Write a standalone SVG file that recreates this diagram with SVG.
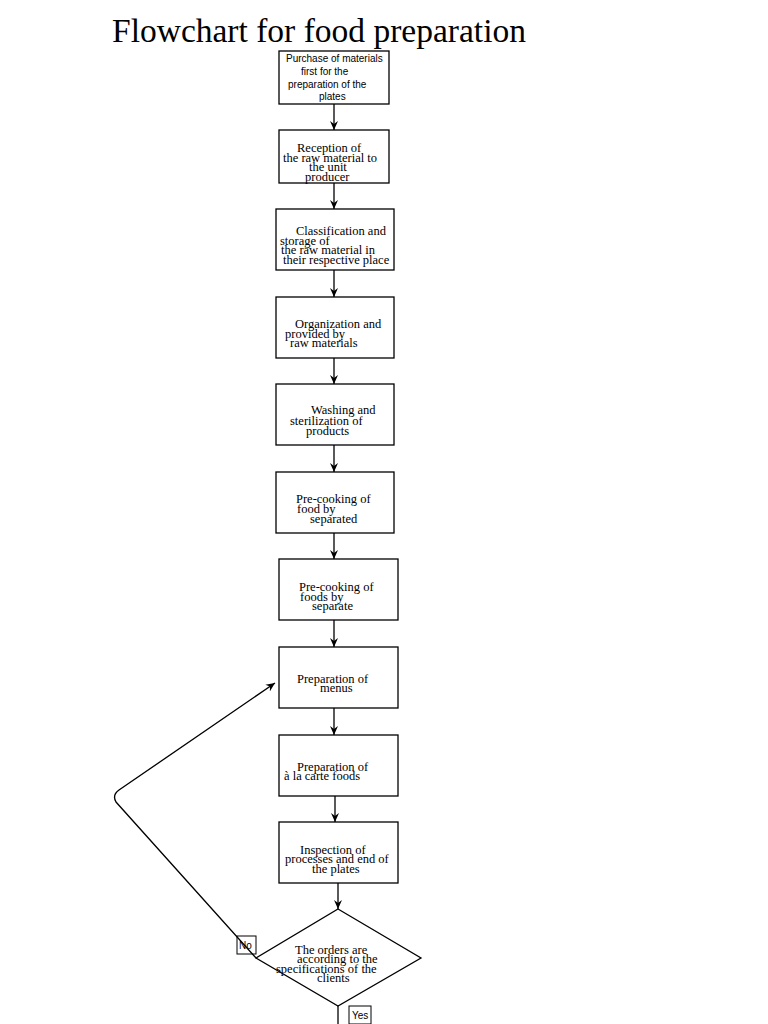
<svg xmlns="http://www.w3.org/2000/svg" width="768" height="1024" viewBox="0 0 768 1024">
<style>
.b{fill:#fff;stroke:#000;stroke-width:1.3}
.t{font-family:"Liberation Serif",serif;font-size:12.5px;fill:#000}
.s{font-family:"Liberation Sans",sans-serif;font-size:10px;fill:#000}
.c{stroke:#000;stroke-width:1.3;fill:none}
</style>
<defs><marker id="a" markerWidth="10" markerHeight="10" refX="9" refY="5" orient="auto" markerUnits="userSpaceOnUse"><path d="M0,1 L9,5 L0,9 L3,5 Z" fill="#000"/></marker></defs>
<rect width="768" height="1024" fill="#fff"/>
<text x="112" y="42" font-family="Liberation Serif,serif" font-size="33.5">Flowchart for food preparation</text>
<g id="connectors">
<line class="c" x1="334" y1="104" x2="334" y2="130" marker-end="url(#a)"/>
<line class="c" x1="334" y1="183" x2="334" y2="209" marker-end="url(#a)"/>
<line class="c" x1="334" y1="270" x2="334" y2="297" marker-end="url(#a)"/>
<line class="c" x1="334" y1="358" x2="334" y2="384" marker-end="url(#a)"/>
<line class="c" x1="334" y1="445" x2="334" y2="472" marker-end="url(#a)"/>
<line class="c" x1="334" y1="533" x2="334" y2="559" marker-end="url(#a)"/>
<line class="c" x1="334" y1="620" x2="334" y2="647" marker-end="url(#a)"/>
<line class="c" x1="334" y1="708" x2="334" y2="735" marker-end="url(#a)"/>
<line class="c" x1="335" y1="796" x2="335" y2="822" marker-end="url(#a)"/>
<line class="c" x1="338" y1="883" x2="338" y2="909" marker-end="url(#a)"/>
<path class="c" d="M256,958 L116,802 Q112,795 119,790 L275,683" marker-end="url(#a)"/>
<line class="c" x1="338" y1="1006" x2="338" y2="1024"/>
</g>
<g id="n1"><rect class="b" x="279" y="51" width="110" height="53"/>
<text class="s" x="286" y="62">Purchase of materials</text><text class="s" x="301" y="75">first for the</text><text class="s" x="288" y="88">preparation of the</text><text class="s" x="319" y="100">plates</text></g>
<g id="n2"><rect class="b" x="279" y="130" width="110" height="53"/>
<text class="t" x="297" y="152">Reception of</text><text class="t" x="283" y="162">the raw material to</text><text class="t" x="309" y="171">the unit</text><text class="t" x="305" y="181">producer</text></g>
<g id="n3"><rect class="b" x="276" y="209" width="118" height="61"/>
<text class="t" x="296" y="235" font-size="11">Classification and</text><text class="t" x="280" y="245" font-size="11">storage of</text><text class="t" x="281" y="254" font-size="11">the raw material in</text><text class="t" x="283" y="264" font-size="11">their respective place</text></g>
<g id="n4"><rect class="b" x="276" y="297" width="118" height="61"/>
<text class="t" x="295" y="328">Organization and</text><text class="t" x="285" y="338">provided by</text><text class="t" x="290" y="347">raw materials</text></g>
<g id="n5"><rect class="b" x="276" y="384" width="118" height="61"/>
<text class="t" x="311" y="414" font-size="10">Washing and</text><text class="t" x="290" y="425">sterilization of</text><text class="t" x="306" y="435">products</text></g>
<g id="n6"><rect class="b" x="276" y="472" width="118" height="61"/>
<text class="t" x="296" y="503">Pre-cooking of</text><text class="t" x="297" y="513">food by</text><text class="t" x="310" y="523">separated</text></g>
<g id="n7"><rect class="b" x="279" y="559" width="119" height="61"/>
<text class="t" x="299" y="591">Pre-cooking of</text><text class="t" x="300" y="601">foods by</text><text class="t" x="312" y="610">separate</text></g>
<g id="n8"><rect class="b" x="279" y="647" width="119" height="61"/>
<text class="t" x="297" y="683">Preparation of</text><text class="t" x="320" y="692">menus</text></g>
<g id="n9"><rect class="b" x="279" y="735" width="119" height="61"/>
<text class="t" x="297" y="771">Preparation of</text><text class="t" x="284" y="780">à la carte foods</text></g>
<g id="n10"><rect class="b" x="279" y="822" width="119" height="61"/>
<text class="t" x="300" y="854">Inspection of</text><text class="t" x="285" y="863">processes  and  end  of</text><text class="t" x="312" y="873">the plates</text></g>
<g id="n11"><polygon class="b" points="338,909 421,958 338,1006 256,958"/>
<text class="t" x="295" y="954">The orders are</text><text class="t" x="297" y="963">according to the</text><text class="t" x="276" y="973">specifications of the</text><text class="t" x="317" y="982">clients</text></g>
<g id="lno"><rect x="237" y="936" width="19" height="18" fill="none" stroke="#000"/><text class="s" x="239" y="949">No</text></g>
<g id="lyes"><rect x="349" y="1006" width="22" height="18" fill="none" stroke="#000"/><text class="s" x="352" y="1019">Yes</text></g>
</svg>
